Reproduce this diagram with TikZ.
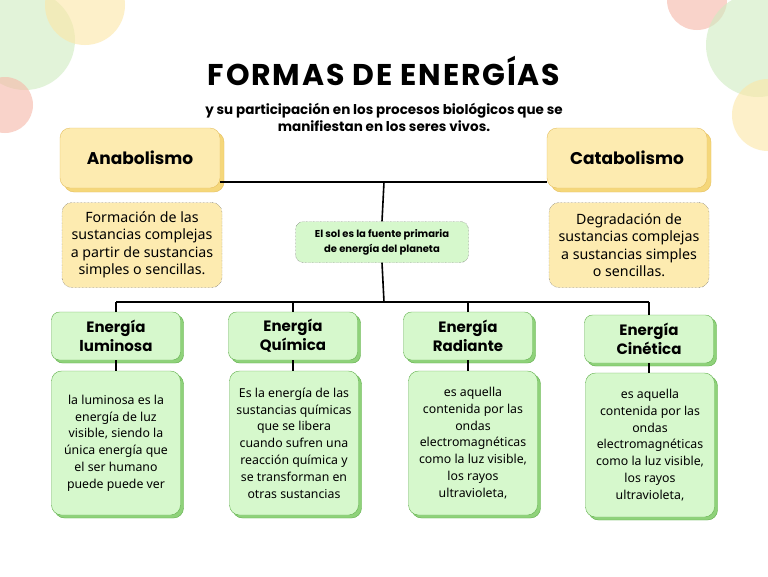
\documentclass[tikz,border=0pt]{standalone}
\usepackage{fontspec}
\setmainfont{Poppins}
\newfontfamily\descfont{Noto Sans}
\definecolor{yfill}{HTML}{FDEBB0}
\definecolor{ybord}{HTML}{E6C060}
\definecolor{gfill}{HTML}{D6F8CC}
\definecolor{gbord}{HTML}{5FAF4A}
\definecolor{gshad}{HTML}{8FD27A}
\definecolor{yshad}{HTML}{F5D77A}
\definecolor{cpink}{HTML}{F6B7A8}
\definecolor{cyel}{HTML}{FCE7A6}
\definecolor{cgreen}{HTML}{CFEBC0}
\usetikzlibrary{shadows}
\tikzset{
 ybox/.style={draw=ybord,fill=yfill,rounded corners=10pt,minimum height=60pt,minimum width=160pt,font=\bfseries\fontsize{17}{20}\selectfont,drop shadow={shadow xshift=4pt,shadow yshift=-4pt,fill=yshad,draw=ybord,opacity=1}},
 ydesc/.style={draw=black!70,densely dotted,fill=yfill,rounded corners=10pt,minimum height=85pt,minimum width=160pt,align=center,inner sep=2pt,font=\descfont\fontsize{14.2}{17.5}\selectfont},
 gtitle/.style={draw=gbord,fill=gfill,rounded corners=8pt,minimum height=48pt,minimum width=129pt,align=center,font=\bfseries\fontsize{15}{19}\selectfont,drop shadow={shadow xshift=3pt,shadow yshift=-3pt,fill=gshad,draw=gbord,opacity=1}},
 gdesc/.style={draw=gbord,fill=gfill,rounded corners=10pt,minimum height=144pt,minimum width=129pt,align=center,inner sep=2pt,font=\descfont\fontsize{12.3}{16.8}\selectfont,drop shadow={shadow xshift=3pt,shadow yshift=-3pt,fill=gshad,draw=gbord,opacity=1}},
 wire/.style={line width=1.6pt,black},
 circ/.style={opacity=0.6}
}
\begin{document}
\begin{tikzpicture}[x=1pt,y=-1pt]
\useasboundingbox (0,0) rectangle (768,576);
\fill[white] (0,0) rectangle (768,576);
\begin{scope}
\clip (0,0) rectangle (768,576);
\fill[circ,cgreen] (25,40) circle (50);
\fill[circ,cyel] (85,5) circle (40);
\fill[circ,cpink] (5,105) circle (28);
\fill[circ,cpink] (697,0) circle (30);
\fill[circ,cgreen] (758,45) circle (52);
\fill[circ,cyel] (768,115) circle (36);
\end{scope}
\node (title) at (384,71) {\bfseries\fontsize{30}{34}\selectfont\addfontfeature{LetterSpace=6}FORMAS DE ENERGÍAS};
\node[align=center,font=\bfseries\fontsize{13.5}{17}\selectfont] (sub) at (384,117) {y su participación en los procesos biológicos que se\\manifiestan en los seres vivos.};
\node[ybox] (ana) at (140,158) {Anabolismo};
\node[ybox] (cata) at (627,158) {Catabolismo};
\node[ydesc] (anad) at (142,245) {Formación de las\\sustancias complejas\\a partir de sustancias\\simples o sencillas.};
\node[ydesc] (catad) at (629,245) {Degradación de\\sustancias complejas\\a sustancias simples\\o sencillas.};
\coordinate (top) at (384,182);
\coordinate (bot) at (384,302);
\draw[wire] (ana.east |- top) -- (cata.west |- top);
\node[draw=black!70,densely dotted,fill=gfill,rounded corners=8pt,minimum width=173pt,minimum height=41pt,align=center,font=\bfseries\fontsize{10}{15}\selectfont] (sol) at (382,242) {El sol es la fuente primaria\\de energía del planeta};
\draw[wire] (top) -- (sol.north);
\draw[wire] (sol.south) -- (bot);
\node[gtitle] (t1) at (116,336) {Energía\\luminosa};
\node[gtitle] (t2) at (293,336) {Energía\\Química};
\node[gtitle] (t3) at (468,336) {Energía\\Radiante};
\node[gtitle] (t4) at (649,339) {Energía\\Cinética};
\node[gdesc] (d1) at (116,443) {la luminosa es la\\energía de luz\\visible, siendo la\\única energía que\\el ser humano\\puede puede ver};
\node[gdesc] (d2) at (294,443) {Es la energía de las\\sustancias químicas\\que se libera\\cuando sufren una\\reacción química y\\se transforman en\\otras sustancias};
\node[gdesc] (d3) at (473,443) {es aquella\\contenida por las\\ondas\\electromagnéticas\\como la luz visible,\\los rayos\\ultravioleta,};
\node[gdesc] (d4) at (650,445) {es aquella\\contenida por las\\ondas\\electromagnéticas\\como la luz visible,\\los rayos\\ultravioleta,};
\draw[wire] (t1.north |- bot) -- (t4.north |- bot);
\foreach \i in {1,2,3,4}{\draw[wire] (t\i.north |- bot) -- (t\i.north); \draw[wire] (t\i.south) -- (t\i.south |- d\i.north);}
\end{tikzpicture}
\end{document}
